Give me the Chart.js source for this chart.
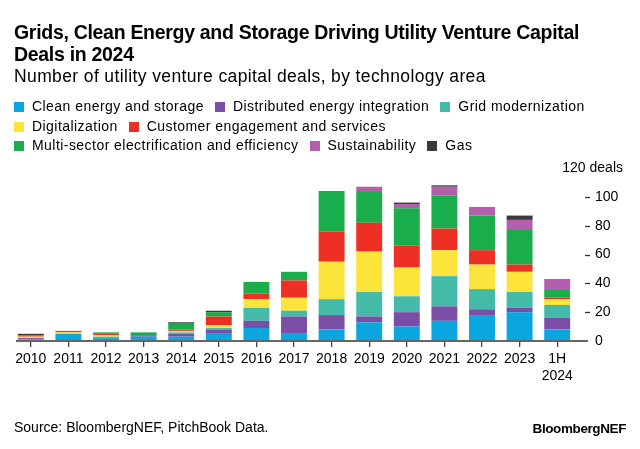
<!DOCTYPE html>
<html>
<head>
<meta charset="utf-8">
<script src="https://cdn.jsdelivr.net/npm/chart.js@4"></script>
<style>
  html, body { margin:0; padding:0; background:#fff; }
  body { width:640px; height:449px; position:relative; overflow:hidden; font-family:"Liberation Sans", Arial, sans-serif; color:#000; }
  #title { position:absolute; left:14px; top:21px; font-size:19.5px; font-weight:bold; line-height:22px; letter-spacing:-0.3px; width:626px; white-space:nowrap; }
  #subtitle { position:absolute; left:14px; top:66px; font-size:17.5px; line-height:20px; letter-spacing:0.38px; white-space:nowrap; }
  #legend { position:absolute; left:14px; top:97px; width:626px; font-size:14px; line-height:19.5px; letter-spacing:0.45px; }
  .li { display:inline-block; margin-right:11px; white-space:nowrap; }
  .sw { display:inline-block; width:10px; height:10px; margin-right:8px; vertical-align:-1px; }
  #source { position:absolute; left:14px; top:419px; font-size:14px; }
  #brand { position:absolute; right:14px; top:421px; font-size:13.5px; font-weight:bold; letter-spacing:-0.4px; }
  #wrap { position:absolute; left:0; top:0; width:640px; height:449px; }
</style>
</head>
<body>
<div id="wrap"><canvas id="c" width="640" height="449"></canvas></div>
<div id="title">Grids, Clean Energy and Storage Driving Utility Venture Capital<br>Deals in 2024</div>
<div id="subtitle">Number of utility venture capital deals, by technology area</div>
<div id="legend"></div>
<div id="source">Source: BloombergNEF, PitchBook Data.</div>
<div id="brand">BloombergNEF</div>
<script>
const categories = ["2010","2011","2012","2013","2014","2015","2016","2017","2018","2019","2020","2021","2022","2023",["1H","2024"]];
const cleanEnergy   = [1,5,2,3,3,5,9,5,8,13,10,14,18,20,8];
const distributed   = [1,0,0,1,2,3,5,12,10,4,10,10,4,3,8];
const gridMod       = [0,0,1,0,1,1,9,4,11,17,11,21,14,11,9];
const digitalization= [1,1,1,0,1,2,6,9,26,28,20,18,17,14,4];
const customer      = [1,1,1,0,1,6,4,12,21,20,15,15,10,5,1];
const multiSector   = [0,0,1,2,4,3,8,6,28,22,26,23,24,24,6];
const sustainability= [0,0,0,0,0,0,0,0,0,3,3,6,6,7,7];
const gas           = [1,0,0,0,1,1,0,0,0,0,1,1,0,3,0];
const yTicks = [0,20,40,60,80,100,120];

const seriesNames = ["Clean energy and storage","Distributed energy integration","Grid modernization","Digitalization","Customer engagement and services","Multi-sector electrification and efficiency","Sustainability","Gas"];
const seriesData = [cleanEnergy,distributed,gridMod,digitalization,customer,multiSector,sustainability,gas];
const seriesColors = ["#0aa6e0","#7a4ea6","#44bba8","#fde43a","#ee2f24","#1aad4b","#b45fae","#3a3a3a"];

// legend
const lg = document.getElementById('legend');
const rows = [[0,1,2],[3,4],[5,6,7]];
rows.forEach(r => {
  const d = document.createElement('div');
  r.forEach(i => {
    const s = document.createElement('span'); s.className='li';
    s.innerHTML = '<span class="sw" style="background:'+seriesColors[i]+'"></span>' + seriesNames[i];
    d.appendChild(s);
  });
  lg.appendChild(d);
});

const FONT = "Liberation Sans";
const decor = {
  id:'decor',
  afterDraw(chart){
    const ctx = chart.ctx, ca = chart.chartArea, y = chart.scales.y;
    ctx.save();
    const y0 = y.getPixelForValue(0);
    ctx.strokeStyle = '#666'; ctx.lineWidth = 2;
    ctx.beginPath(); ctx.moveTo(ca.left+4, y0); ctx.lineTo(ca.right+12, y0); ctx.stroke();
    ctx.lineWidth = 1.3; ctx.strokeStyle = '#333';
    yTicks.forEach(v => {
      if (v === 0 || v === 120) return;
      const py = Math.round(y.getPixelForValue(v)) + 0.5;
      ctx.beginPath(); ctx.moveTo(ca.right+9, py); ctx.lineTo(ca.right+14, py); ctx.stroke();
    });
    ctx.fillStyle = '#000'; ctx.font = '14px "'+FONT+'"';
    ctx.textAlign = 'right'; ctx.textBaseline = 'middle';
    ctx.fillText(yTicks[yTicks.length-1] + ' deals', 623, y.getPixelForValue(120));
    ctx.restore();
  }
};

new Chart(document.getElementById('c'), {
  type:'bar',
  data:{
    labels: categories,
    datasets: seriesNames.map((n,i)=>({label:n, data:seriesData[i], backgroundColor:seriesColors[i], borderWidth:0}))
  },
  options:{
    responsive:false, animation:false, devicePixelRatio:1,
    layout:{ padding:{ left:12, top:168, right:0, bottom:0 } },
    plugins:{ legend:{display:false}, tooltip:{enabled:false}, title:{display:false} },
    datasets:{ bar:{ categoryPercentage:1, barPercentage:0.69 } },
    scales:{
      x:{
        stacked:true,
        border:{display:false},
        grid:{ offset:false, drawOnChartArea:false, drawTicks:true, tickLength:6, color:'#444', lineWidth:1.3 },
        ticks:{ color:'#000', font:{family:FONT, size:14}, padding:4, maxRotation:0, autoSkip:false },
        afterFit(s){ s.height = 449 - 341; }
      },
      y:{
        stacked:true, position:'right', min:0, max:120,
        border:{display:false},
        grid:{ display:true, drawOnChartArea:false, drawTicks:false },
        ticks:{ stepSize:20, color:'#000', font:{family:FONT, size:14}, padding:19,
          callback:(v)=> (v===120 ? '' : String(v)) },
        afterFit(s){ s.width = 64; }
      }
    }
  },
  plugins:[decor]
});
</script>
</body>
</html>
